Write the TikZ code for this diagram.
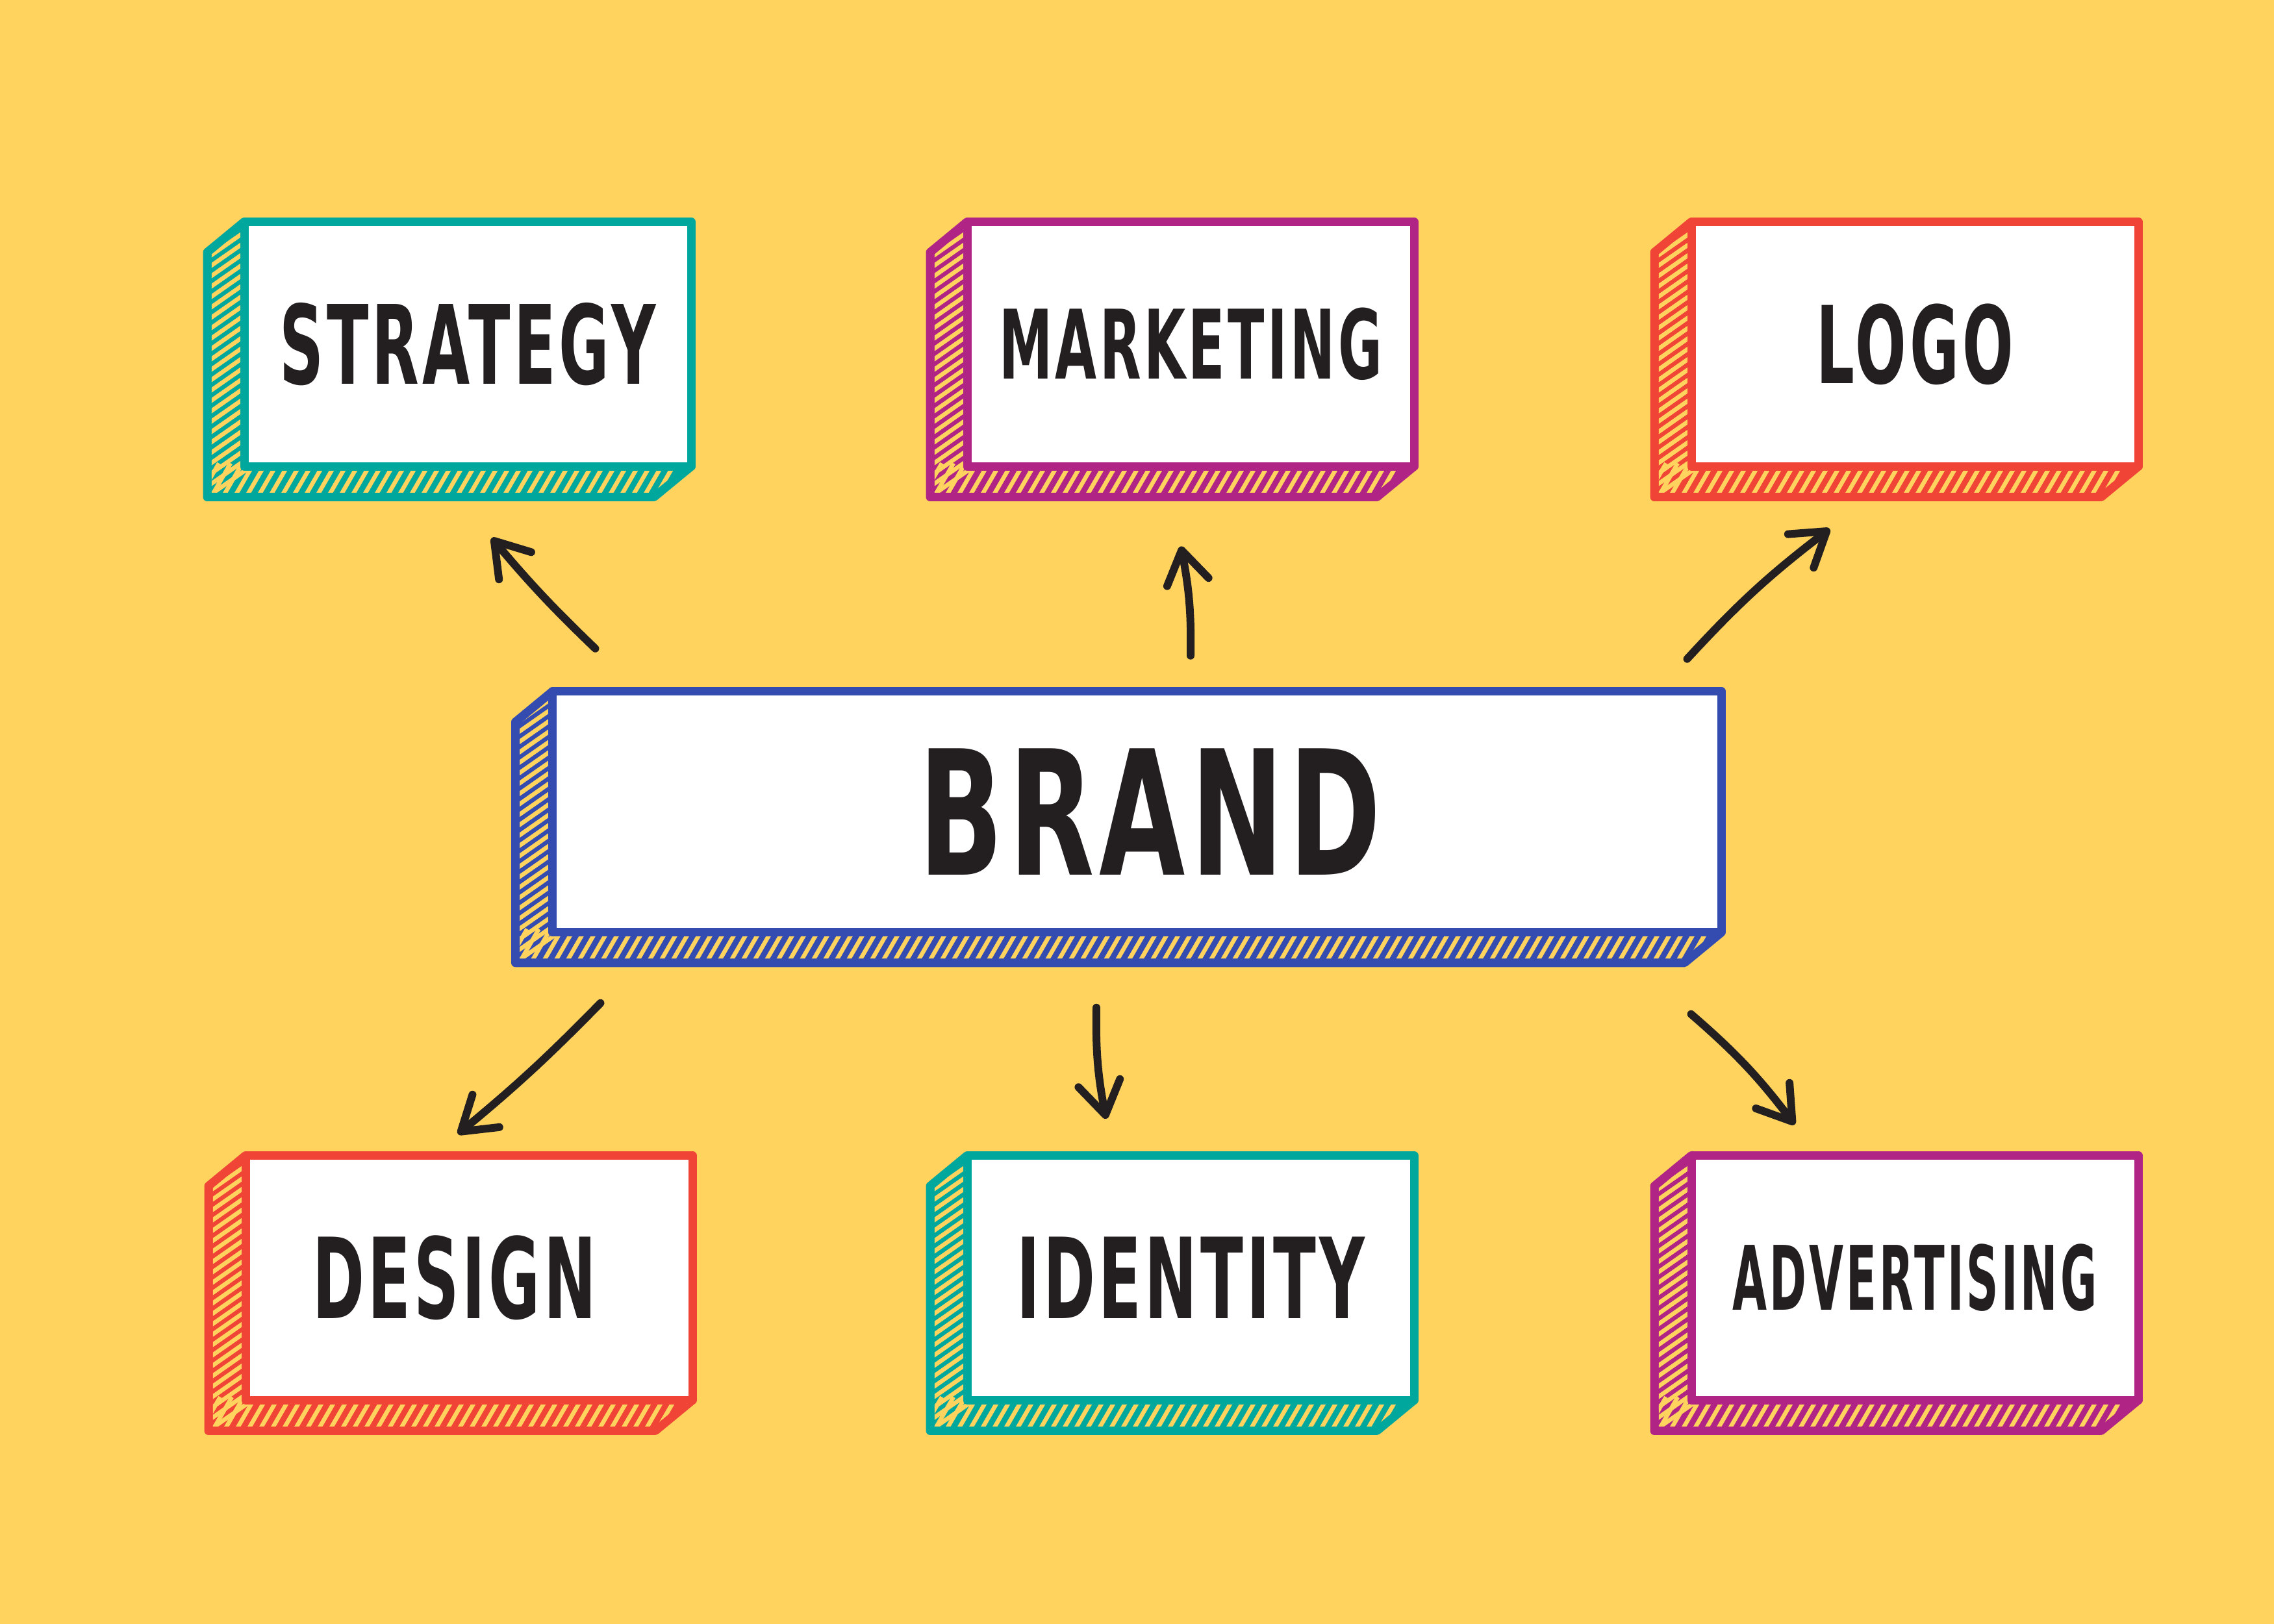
\documentclass[tikz,border=0pt]{standalone}
\usepackage{fontspec}
\usepackage{tikz}
\usetikzlibrary{arrows.meta, calc, backgrounds}
\newfontfamily\handfont{DejaVu Sans}[FakeStretch=0.56, LetterSpace=3]
\newfontfamily\brandfont{DejaVu Sans}[FakeStretch=0.64, LetterSpace=3]
\newfontfamily\narrowfont{DejaVu Sans}[FakeStretch=0.5, LetterSpace=3]
\definecolor{paper}{RGB}{255,211,94}
\definecolor{ink}{RGB}{35,31,32}
\definecolor{cardteal}{RGB}{0,167,157}
\definecolor{cardplum}{RGB}{175,36,132}
\definecolor{cardred}{RGB}{240,68,54}
\definecolor{cardblue}{RGB}{52,76,176}
\tikzset{
	card/.style = {draw=#1, fill=white, line width=0.13cm, line join=round,
		outer sep=0pt, inner sep=0pt, text=ink,
		minimum width=6.88cm, minimum height=3.77cm},
	word/.style = {font=\handfont\bfseries\fontsize{#1}{#1}\selectfont},
	hatch/.style = {draw=paper, line width=0.065cm},
	link/.style = {draw=ink, line width=3.4pt, line cap=round,
		-{Straight Barb[length=5mm, width=6.5mm, round]}}
}
% side and bottom faces of a card, hatched
\newcommand{\cardshadow}[2]{%
	\fill[#2] (#1.north west) -- ++(-0.57,-0.47) -- ($(#1.south west)+(-0.57,-0.47)$)
		-- ($(#1.south east)+(-0.57,-0.47)$) -- (#1.south east) -- (#1.north east) -- cycle;
	\begin{scope}
		\clip ($(#1.north west)+(0,-0.084)$) -- ($(#1.north west)+(-0.505,-0.50)$)
			-- ($(#1.south west)+(-0.505,-0.405)$) -- ($(#1.south east)+(-0.59,-0.405)$)
			-- ($(#1.south east)+(-0.1,0)$) -- (#1.north east) -- cycle;
		\foreach \t in {0,0.16,...,4.8}
			\draw[hatch] ($(#1.south west)+(-0.57,-0.47)+(0,\t)$) -- ++(0.8,0.56);
		\foreach \t in {-0.3,-0.12,...,18.4}
			\draw[hatch] ($(#1.south west)+(-0.57,-0.47)+(\t,0)$) -- ++(0.3,0.52);
	\end{scope}
	\draw[#2, line width=0.13cm, line join=round] (#1.north west) -- ++(-0.57,-0.47)
		-- ($(#1.south west)+(-0.57,-0.47)$) -- ($(#1.south east)+(-0.57,-0.47)$) -- (#1.south east);
}

\begin{document}
\begin{tikzpicture}
	\useasboundingbox (0,0) rectangle (35.01,25.01);
	
	% cards
	\node [card=cardteal, word=48pt] (strategy) at (7.20,19.71) {STRATEGY};
	\node [card=cardplum, word=42pt] (marketing) at (18.33,19.71) {MARKETING};
	\node [card=cardred, word=47pt] (logo) at (29.48,19.71) {LOGO};
	\node [card=cardblue, minimum width=18cm, minimum height=3.71cm,
		font=\brandfont\bfseries\fontsize{76pt}{76pt}\selectfont] (brand) at (17.505,12.507) {\hspace*{0.4cm}BRAND};
	\node [card=cardred, word=49pt] (design) at (7.22,5.33) {DESIGN\hspace*{0.45cm}};
	\node [card=cardteal, word=49pt] (identity) at (18.33,5.33) {IDENTITY};
	\node [card=cardplum, font=\narrowfont\bfseries\fontsize{39pt}{39pt}\selectfont] (advertising) at (29.48,5.33) {ADVERTISING};
	
	\begin{scope}[on background layer]
		\fill [paper] (0,0) rectangle (35.01,25.01);
		\cardshadow{strategy}{cardteal}
		\cardshadow{marketing}{cardplum}
		\cardshadow{logo}{cardred}
		\cardshadow{brand}{cardblue}
		\cardshadow{design}{cardred}
		\cardshadow{identity}{cardteal}
		\cardshadow{advertising}{cardplum}
	\end{scope}
	
	% arrows
	\draw [link] ($(brand.north west)+(0.66,0.66)$) to[bend left=3] ($(strategy.south)+(0.37,-1.10)$);
	\draw [link] ($(brand.north)+(0.825,0.55)$) to[bend right=6] ($(marketing.south)+(-0.15,-1.23)$);
	\draw [link] ($(brand.north east)+(-0.53,0.50)$) to[bend left=5] ($(logo.south)+(-1.31,-0.96)$);
	\draw [link] ($(brand.south west)+(0.74,-1.09)$) to[bend left=3] ($(design.north)+(-0.17,0.33)$);
	\draw [link] ($(brand.south)+(-0.625,-1.16)$) to[bend right=6] ($(identity.north)+(-1.30,0.565)$);
	\draw [link] ($(brand.south east)+(-0.47,-1.26)$) to[bend left=6] ($(advertising.north)+(-1.85,0.475)$);
\end{tikzpicture}
\end{document}
